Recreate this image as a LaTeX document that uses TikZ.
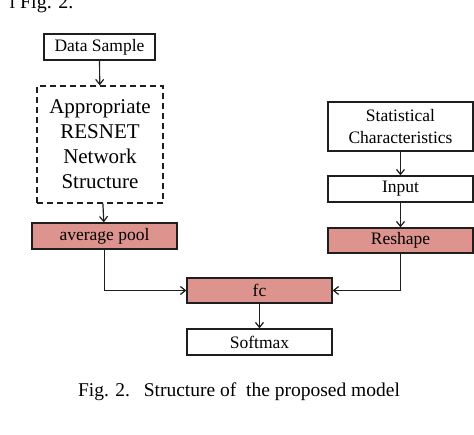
\documentclass[tikz,border=0pt]{standalone}
\usepackage{fontspec}
\setmainfont{Liberation Serif}
\usetikzlibrary{arrows.meta}
\definecolor{boxpink}{RGB}{221,148,143}
\definecolor{linegray}{RGB}{30,30,30}
\begin{document}
\begin{tikzpicture}[x=1pt,y=-1pt,
  box/.style={draw=linegray,line width=1.3pt,inner sep=0pt,align=center,font=\fontsize{17.5}{22}\selectfont},
  pinkbox/.style={box,fill=boxpink},
  dashbox/.style={draw=linegray,line width=1.3pt,dash pattern=on 6pt off 4pt,inner sep=0pt,align=center,font=\fontsize{21}{25}\selectfont},
  conn/.style={draw=linegray,line width=1.2pt,-{Straight Barb[length=5pt,width=8pt]}}]
\useasboundingbox (0,0) rectangle (474,434);
\node[anchor=base east,font=\fontsize{20}{24}\selectfont] (frag) at (77,8) {l Fig. 2.};
\node[box,minimum width=111pt,minimum height=26pt] (ds) at (99.5,47) {Data Sample};
\node[dashbox,minimum width=126pt,minimum height=117pt] (rn) at (100,144.5) {Appropriate\\RESNET\\Network\\Structure};
\node[pinkbox,minimum width=145pt,minimum height=26pt] (ap) at (104.5,236) {average pool};
\node[box,minimum width=145pt,minimum height=49pt] (sc) at (400.5,126.5) {Statistical\\Characteristics};
\node[box,minimum width=145pt,minimum height=26pt] (in) at (400.5,189) {Input};
\node[pinkbox,minimum width=145pt,minimum height=25pt] (rs) at (400.5,240.5) {Reshape};
\node[pinkbox,minimum width=145pt,minimum height=25pt] (fc) at (259.5,290.5) {fc};
\node[box,minimum width=145pt,minimum height=26pt] (sm) at (259.5,342) {Softmax};
\node[anchor=base,font=\fontsize{19.5}{24}\selectfont] (cap) at (239,396) {Fig. 2.\hspace{0.7em}Structure of\ \ the proposed model};
\draw[conn] (ds) -- (rn);
\draw[conn] (rn) -- (ap);
\draw[conn] (sc) -- (in);
\draw[conn] (in) -- (rs);
\draw[conn] (ap.south) |- (fc.west);
\draw[conn] (rs.south) |- (fc.east);
\draw[conn] (fc) -- (sm);
\end{tikzpicture}
\end{document}
